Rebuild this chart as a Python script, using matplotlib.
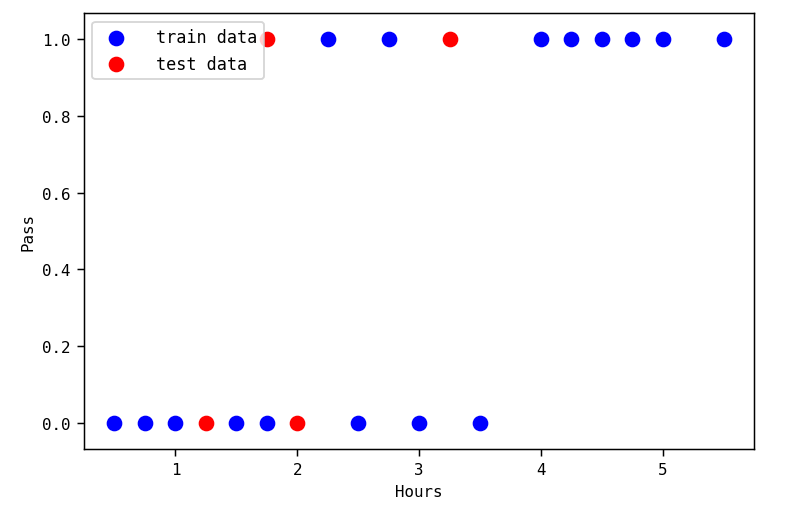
import matplotlib
matplotlib.use("Agg")
import matplotlib.pyplot as plt

plt.rcParams['font.family'] = ['DejaVu Sans Mono']
plt.rcParams['font.size'] = 8.5

# study hours vs pass, split into train / test
train_hours = [0.5, 0.75, 1.0, 1.5, 1.75, 2.25, 2.5, 2.75, 3.0, 3.5, 4.0, 4.25, 4.5, 4.75, 5.0, 5.5]
train_pass = [0, 0, 0, 0, 0, 1, 0, 1, 0, 0, 1, 1, 1, 1, 1, 1]
test_hours = [1.25, 1.75, 2.0, 3.25]
test_pass = [0, 1, 0, 1]

fig = plt.figure(figsize=(6.0, 3.925), dpi=134)
ax = fig.add_subplot(111)
fig.subplots_adjust(left=0.1045, right=0.938, bottom=0.1445, top=0.973)

ax.scatter(train_hours, train_pass, color='b', s=55, label='train data')
ax.scatter(test_hours, test_pass, color='r', s=55, label='test data')

ax.set_ylim(-0.068, 1.068)
ax.set_xlabel("Hours")
ax.set_ylabel("Pass")
ax.legend(loc='upper left', fontsize=9, handletextpad=1.4)

fig.savefig("out.png", dpi=134)
